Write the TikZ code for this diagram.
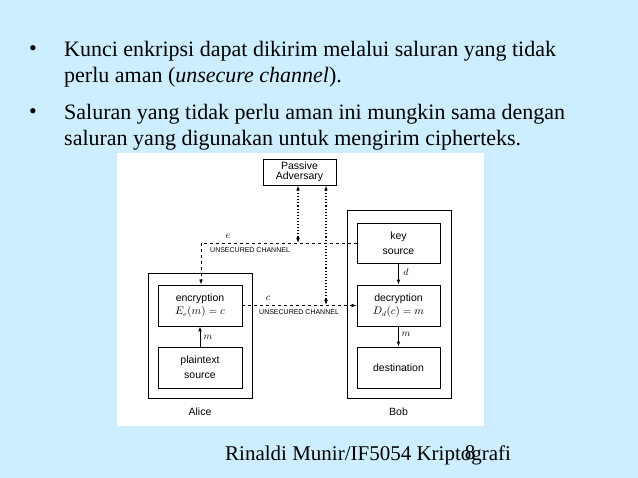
\documentclass[tikz,border=0pt]{standalone}
\usepackage{fontspec}
\setmainfont{Liberation Serif}
\newfontfamily\hv{Liberation Sans}
\usetikzlibrary{arrows.meta}
\definecolor{bg}{HTML}{CCEEFF}
\begin{document}
\begin{tikzpicture}[x=1pt,y=-1pt,
  box/.style={draw,line width=0.9pt,fill=white,inner sep=0pt,font=\hv\fontsize{10.5}{12}\selectfont,align=center},
  outer/.style={draw,line width=1pt},
  ch/.style={dashed,line width=0.9pt},
  dt/.style={dotted,line width=1.1pt,{Latex[length=5pt]}-{Latex[length=5pt]}},
  lab/.style={font=\hv\fontsize{7}{8}\selectfont,inner sep=0pt},
  ml/.style={font=\fontsize{10}{11}\selectfont,inner sep=0pt},
  big/.style={anchor=west,font=\fontsize{22}{26}\selectfont,inner sep=0pt}]
\fill[bg] (0,0) rectangle (638,478);
\fill[white] (117,153) rectangle (484,426);
\node[big] (b1) at (29,51) {•};
\node[big] (t1) at (64,51) {Kunci enkripsi dapat dikirim melalui saluran yang tidak};
\node[big] (t2) at (64,77) {perlu aman (\textit{unsecure channel}).};
\node[big] (b2) at (29,114) {•};
\node[big] (t3) at (64,114) {Saluran yang tidak perlu aman ini mungkin sama dengan};
\node[big] (t4) at (64,140) {saluran yang digunakan untuk mengirim cipherteks.};
\node[anchor=west,font=\fontsize{21}{25}\selectfont,inner sep=0pt] (ft) at (225,455) {Rinaldi Munir/IF5054 Kriptografi};
\node[font=\fontsize{21}{25}\selectfont,inner sep=0pt] (pg) at (470,453) {8};
% boxes
\draw[outer] (347,211) rectangle (451,399);
\draw[outer] (148,274) rectangle (252,399);
\node[box,minimum width=73pt,minimum height=26pt] (pa) at (299.5,172) {Passive\\[-2pt]Adversary};
\node[box,minimum width=83pt,minimum height=40pt] (ks) at (398.5,243) {key\\[3pt]source};
\node[box,minimum width=83pt,minimum height=41pt] (de) at (398.5,305.5) {decryption\\[1pt]$D_d(c)=m$};
\node[box,minimum width=83pt,minimum height=41pt] (ds) at (398.5,367.5) {destination};
\node[box,minimum width=84pt,minimum height=41pt] (en) at (200,305.5) {encryption\\[1pt]$E_e(m)=c$};
\node[box,minimum width=84pt,minimum height=41pt] (pt) at (200,367.5) {plaintext\\[3pt]source};
\node[font=\hv\fontsize{10.5}{12}\selectfont] (al) at (200,412) {Alice};
\node[font=\hv\fontsize{10.5}{12}\selectfont] (bo) at (398.5,412) {Bob};
% channels
\coordinate (c1) at (201,243);
\coordinate (d1) at (298,243);
\coordinate (d2) at (326,305);
\draw[ch,-{Latex[length=5pt]}] (ks.west) -- (c1) -- (en.north -| c1);
\draw[ch,-{Latex[length=5pt]}] (en.east) -- (de.west);
\draw[dt] (pa.south -| d1) -- (d1);
\draw[dt] (pa.south -| d2) -- (d2);
\draw[line width=0.9pt,-{Latex[length=5pt]}] (ks) -- (de);
\draw[line width=0.9pt,-{Latex[length=5pt]}] (de) -- (ds);
\draw[line width=0.9pt,-{Latex[length=5pt]}] (pt) -- (en);
\node[ml] (le) at (228,236) {$e$};
\node[lab,anchor=west] (u1) at (210,250) {UNSECURED CHANNEL};
\node[ml] (lc) at (268,298) {$c$};
\node[lab,anchor=west] (u2) at (259,312) {UNSECURED CHANNEL};
\node[ml] (ld) at (406,272) {$d$};
\node[ml] (lm1) at (406,334) {$m$};
\node[ml] (lm2) at (208,337) {$m$};
\end{tikzpicture}
\end{document}
